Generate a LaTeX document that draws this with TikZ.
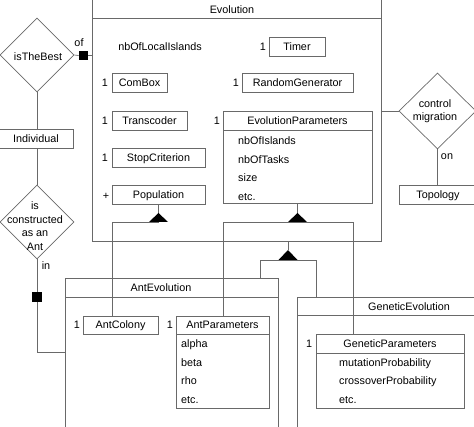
\documentclass[tikz,border=0pt]{standalone}
\usepackage{fontspec}
\setmainfont{Liberation Sans}
\usetikzlibrary{shapes.geometric}
\definecolor{ln}{RGB}{105,105,105}
\begin{document}
\begin{tikzpicture}[x=1pt,y=-1pt,
  every node/.style={font=\fontsize{10.8}{13.5}\selectfont, inner sep=0pt, text=black},
  lbl/.style={text height=7.7pt, text depth=0pt},
  edge/.style={draw=ln, line width=0.7pt},
  cls/.style={draw=ln, line width=0.7pt, rectangle, minimum height=19pt, text height=7.7pt, text depth=0pt},
  big/.style={draw=ln, line width=0.7pt, rectangle, anchor=north west},
  attr/.style={anchor=west, text height=7.7pt, text depth=0pt},
  rel/.style={draw=ln, line width=0.7pt, diamond, aspect=1, inner sep=0pt},
  sq/.style={fill=black, minimum size=9.5pt, inner sep=0pt},
]
\useasboundingbox (0,0) rectangle (474,427);

% ---- big class frames ----
\node[big, minimum width=289pt, minimum height=242pt] (evo) at (92,-1) {};
\draw[edge] (evo.west |- 0,18) -- (evo.east |- 0,18);
\node[lbl] (evot) at (232,9.5) {Evolution};

\node[big, minimum width=213pt, minimum height=160pt] (antevo) at (65,278) {};
\draw[edge] (antevo.west |- 0,297) -- (antevo.east |- 0,297);
\node[lbl] (antevot) at (161,288) {AntEvolution};

\node[big, minimum width=190pt, minimum height=150pt] (genevo) at (297,297) {};
\draw[edge] (genevo.west |- 0,315) -- (genevo.east |- 0,315);
\node[lbl] (genevot) at (409,306.5) {GeneticEvolution};

% ---- contents of Evolution ----
\node[lbl] (nbloc) at (160,46.5) {nbOfLocalIslands};
\node[cls, minimum width=56pt] (timer) at (297,46.5) {Timer};
\node[lbl] (timerm) at (263,46.5) {1};
\node[cls, minimum width=55pt] (combox) at (139.5,83) {ComBox};
\node[lbl] (comboxm) at (105,83) {1};
\node[cls, minimum width=111pt] (rng) at (297.5,83) {RandomGenerator};
\node[lbl] (rngm) at (236,83) {1};
\node[cls, minimum width=75pt] (trans) at (149.5,120.5) {Transcoder};
\node[lbl] (transm) at (105,120.5) {1};
\node[cls, minimum width=149pt] (ep) at (297.5,120.5) {EvolutionParameters};
\node[lbl] (epm) at (217,120.5) {1};
\node[big, minimum width=149pt, minimum height=73pt] (epa) at (223,130) {};
\node[attr] (ep1) at (238,141) {nbOfIslands};
\node[attr] (ep2) at (238,159.5) {nbOfTasks};
\node[attr] (ep3) at (238,178) {size};
\node[attr] (ep4) at (238,196.5) {etc.};
\node[cls, minimum width=93pt] (stop) at (158.5,157.5) {StopCriterion};
\node[lbl] (stopm) at (105,157.5) {1};
\node[cls, minimum width=93pt] (pop) at (158.5,195) {Population};
\node[lbl] (popm) at (106,196) {+};

% ---- contents of AntEvolution ----
\node[cls, minimum width=75pt, minimum height=18pt] (ac) at (120.5,325) {AntColony};
\node[lbl] (acm) at (77,325) {1};
\node[cls, minimum width=93pt, minimum height=18pt] (ap) at (222.5,325) {AntParameters};
\node[lbl] (apm) at (170,325) {1};
\node[big, minimum width=93pt, minimum height=74pt] (apa) at (176,334) {};
\node[attr] (ap1) at (181,344) {alpha};
\node[attr] (ap2) at (181,362.5) {beta};
\node[attr] (ap3) at (181,381) {rho};
\node[attr] (ap4) at (181,399.5) {etc.};

% ---- contents of GeneticEvolution ----
\node[cls, minimum width=148pt] (gp) at (390,343.5) {GeneticParameters};
\node[lbl] (gpm) at (309,343.5) {1};
\node[big, minimum width=148pt, minimum height=55pt] (gpa) at (316,353) {};
\node[attr] (gp1) at (339,362.5) {mutationProbability};
\node[attr] (gp2) at (339,381) {crossoverProbability};
\node[attr] (gp3) at (339,399.5) {etc.};

% ---- relations (diamonds) ----
\node[rel, minimum width=74pt, minimum height=74pt] (best) at (37,55) {};
\node[lbl] (bestt) at (38,57) {isTheBest};
\node[cls, minimum width=74pt] (ind) at (36,138.5) {Individual};
\node[rel, minimum width=74pt, minimum height=74pt] (cons) at (37,222) {};
\node[align=center] (const) at (35,226) {is\\constructed\\as an\\Ant};
\node[rel, minimum width=77pt, minimum height=76pt] (cm) at (437.5,111) {};
\node[align=center] (cmt) at (435,111) {control\\migration};
\node[cls, minimum width=78pt] (topo) at (438,194.5) {Topology};

\node[sq] (s1) at (83.5,55.5) {};
\node[sq] (s2) at (37,297) {};
\node[lbl] (of) at (79,43) {of};
\node[lbl] (in) at (46,266) {in};
\node[lbl] (on) at (447,156) {on};

% connectors
\draw[edge] (best.east) -- (s1.west);
\draw[edge] (s1.east) -- (evo.west |- s1);
\draw[edge] (best.south) -- (best.south |- ind.north);
\draw[edge] (best.south |- ind.south) -- (cons.north);
\coordinate (inbend) at (37,352);
\draw[edge] (cons.south) -- (s2.north);
\draw[edge] (s2.south) -- (inbend) -- (inbend -| antevo.west);
\draw[edge] (evo.east |- cm.west) -- (cm.west);
\draw[edge] (cm.south) -- (cm.south |- topo.north);

% inheritance: Population -> AntColony
\coordinate (t1a) at (158.5,213);
\coordinate (t1b) at (158.5,222);
\coordinate (t1l) at (112,222);
\draw[edge] (pop.south) -- (t1a);
\fill (t1a) -- ++(-9.5,9) -- ++(19,0) -- cycle;
\draw[edge] (t1b) -- (t1l) -- (t1l |- ac.north);

% inheritance: EvolutionParameters -> AntParameters, GeneticParameters
\coordinate (t2a) at (297.5,213);
\coordinate (t2l) at (223,222);
\coordinate (t2r) at (353,222);
\draw[edge] (epa.south -| t2a) -- (t2a);
\fill (t2a) -- ++(-9.5,9) -- ++(19,0) -- cycle;
\draw[edge] (t2l |- ap.north) -- (t2l) -- (t2r) -- (t2r |- gp.north);

% inheritance: Evolution -> AntEvolution, GeneticEvolution
\coordinate (t3a) at (288,250);
\coordinate (t3l) at (260,260);
\coordinate (t3r) at (316,260);
\draw[edge] (evo.south -| t3a) -- (t3a);
\fill (t3a) -- ++(-9.5,10) -- ++(19,0) -- cycle;
\draw[edge] (t3l |- antevo.north) -- (t3l) -- (t3r) -- (t3r |- genevo.north);
\end{tikzpicture}
\end{document}
